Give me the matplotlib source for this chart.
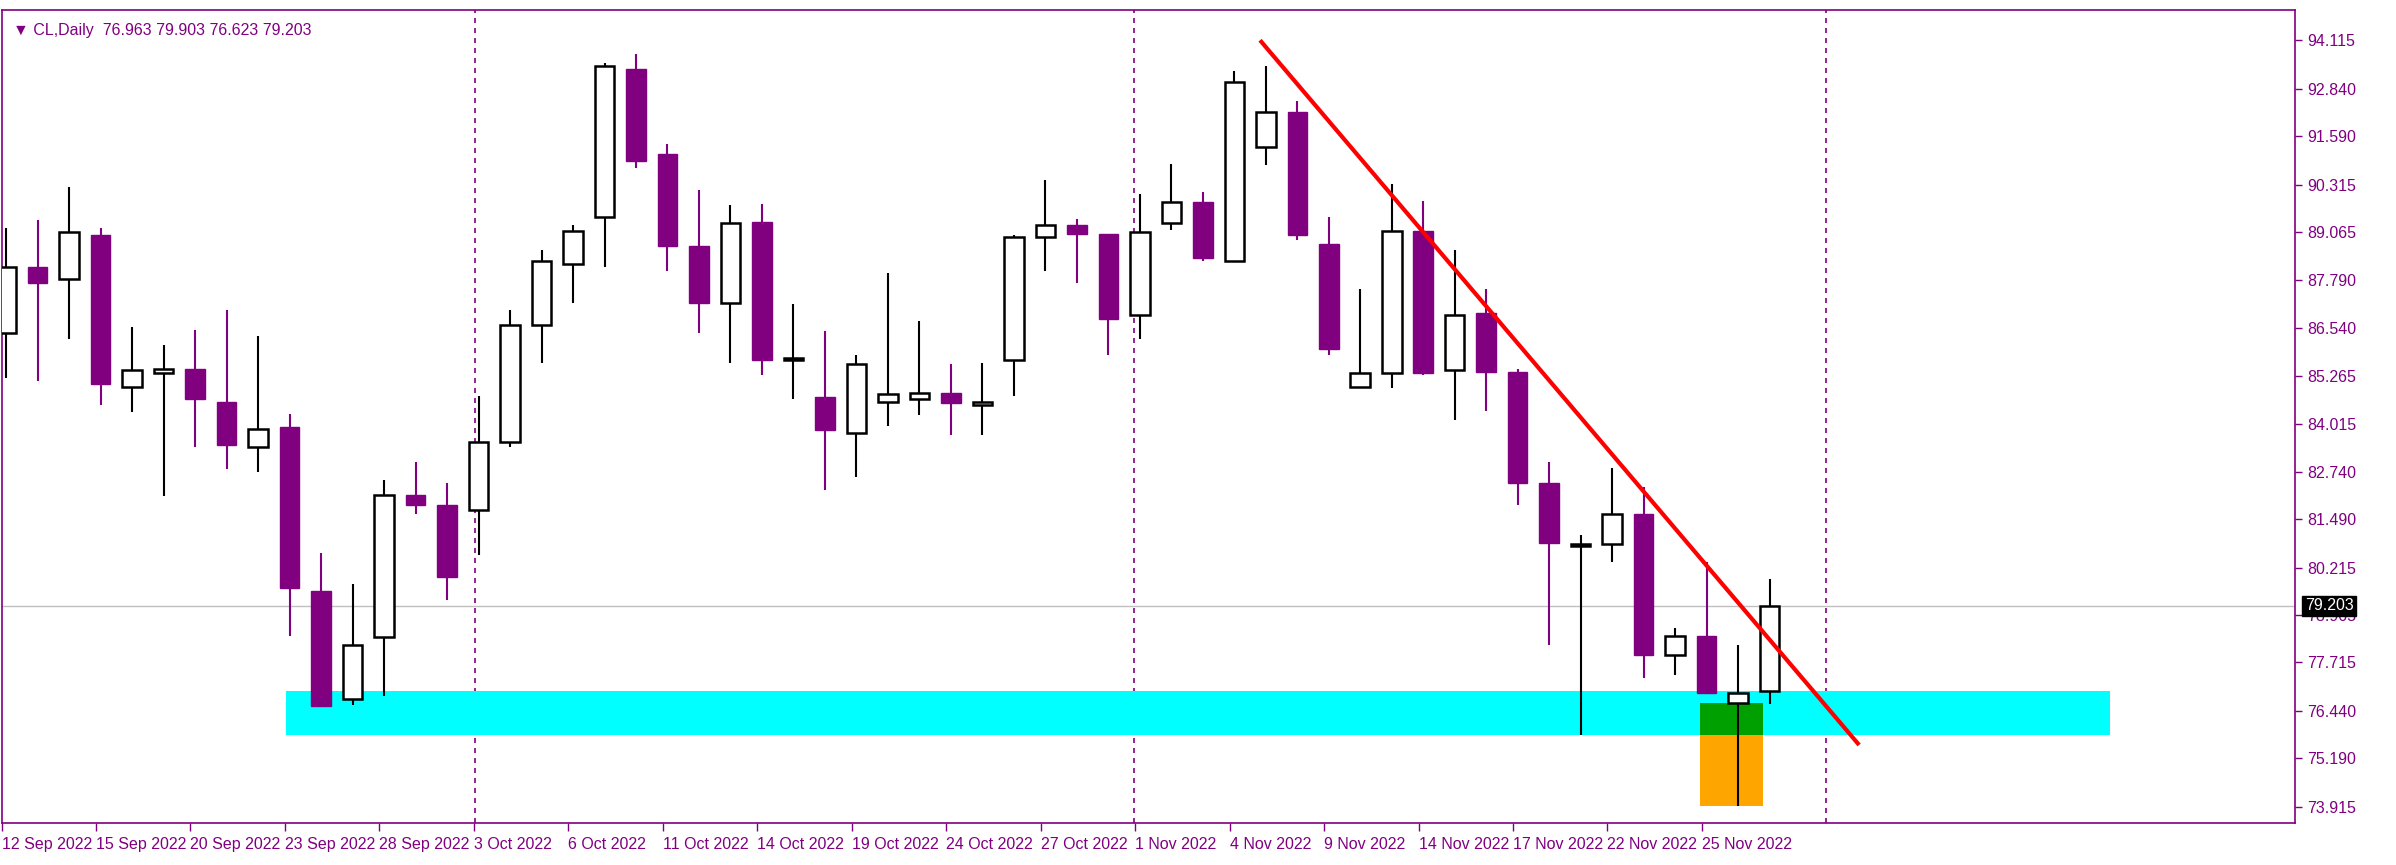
import matplotlib
matplotlib.use("Agg")
import matplotlib.pyplot as plt
from matplotlib.patches import Rectangle

plt.rcParams["font.family"] = ["Liberation Sans", "DejaVu Sans"]

# daily OHLC
opens = [86.41, 88.15, 87.83, 88.98, 84.98, 85.34, 85.46, 84.59, 83.40, 83.92,
         79.61, 76.76, 78.38, 82.14, 81.86, 81.74, 83.52, 86.60, 88.23, 89.45,
         93.36, 91.11, 88.70, 87.20, 89.33, 85.70, 84.71, 83.76, 84.59, 84.67,
         84.82, 84.51, 85.70, 88.94, 89.25, 89.02, 86.88, 89.29, 89.85, 88.30,
         91.31, 92.22, 88.74, 84.98, 85.34, 89.09, 85.42, 86.92, 85.38, 82.45,
         80.79, 80.83, 81.62, 77.91, 78.42, 76.64, 76.963]
highs = [89.17, 89.37, 90.24, 89.17, 86.56, 86.09, 86.49, 87.00, 86.33, 84.27,
         80.60, 79.77, 82.53, 83.01, 82.45, 84.75, 87.00, 88.58, 89.25, 93.52,
         93.76, 91.39, 90.16, 89.77, 89.81, 87.16, 86.45, 85.81, 87.99, 86.72,
         85.58, 85.62, 88.98, 90.44, 89.41, 89.02, 90.08, 90.87, 90.12, 93.32,
         93.44, 92.53, 89.45, 87.55, 90.32, 89.89, 88.58, 87.55, 85.46, 83.01,
         81.07, 82.85, 82.33, 78.62, 80.36, 78.18, 79.903]
lows = [85.22, 85.14, 86.25, 84.51, 84.31, 82.10, 83.40, 82.81, 82.73, 78.42,
        76.56, 76.60, 76.84, 81.62, 79.37, 80.56, 83.40, 85.62, 87.20, 88.15,
        90.75, 88.03, 86.41, 85.62, 85.30, 84.67, 82.25, 82.61, 83.96, 84.23,
        83.72, 83.72, 84.75, 88.03, 87.71, 85.81, 86.25, 89.13, 88.30, 88.27,
        90.83, 88.86, 85.81, 84.94, 84.94, 85.30, 84.11, 84.35, 81.86, 78.18,
        75.81, 80.36, 77.31, 77.39, 76.92, 73.92, 76.623]
closes = [88.15, 87.71, 89.06, 85.06, 85.42, 85.46, 84.67, 83.44, 83.88, 79.69,
          76.56, 78.18, 82.14, 81.86, 79.96, 83.52, 86.60, 88.30, 89.09, 93.44,
          90.95, 88.70, 87.20, 89.29, 85.70, 85.70, 83.84, 85.58, 84.79, 84.82,
          84.55, 84.59, 88.94, 89.25, 89.02, 86.76, 89.06, 89.85, 88.38, 93.01,
          92.22, 88.98, 85.97, 85.34, 89.09, 85.34, 86.88, 85.38, 82.45, 80.87,
          80.83, 81.62, 77.91, 78.42, 76.92, 76.92, 79.203]

date_idx = [0, 3, 6, 9, 12, 15, 18, 21, 24, 27, 30, 33, 36, 39, 42, 45, 48, 51, 54]
date_labels = ["12 Sep 2022", "15 Sep 2022", "20 Sep 2022", "23 Sep 2022", "28 Sep 2022",
               "3 Oct 2022", "6 Oct 2022", "11 Oct 2022", "14 Oct 2022", "19 Oct 2022",
               "24 Oct 2022", "27 Oct 2022", "1 Nov 2022", "4 Nov 2022", "9 Nov 2022",
               "14 Nov 2022", "17 Nov 2022", "22 Nov 2022", "25 Nov 2022"]
price_ticks = [94.115, 92.840, 91.590, 90.315, 89.065, 87.790, 86.540, 85.265, 84.015,
               82.740, 81.490, 80.215, 78.965, 77.715, 76.440, 75.190, 73.915]
separators = [14.9, 35.8, 57.8]

trend_x = [39.86, 58.8]
trend_y = [94.08, 75.58]
support_zone = (8.9, 66.8, 75.81, 76.96)    # x0, x1, y0, y1
green_zone = (53.8, 55.8, 75.81, 76.64)
orange_zone = (53.8, 55.8, 73.92, 75.81)

PURPLE = "#800080"
last_price = 79.203

fig = plt.figure(figsize=(23.96, 8.65), dpi=100)
ax = fig.add_axes([1 / 1597, 1 - 549 / 577, 1529 / 1597, 542 / 577])
ax.set_xlim(-0.14, 72.7)
ax.set_ylim(73.48, 94.906)

for x0, x1, y0, y1, c in [(*support_zone, "#00ffff"), (*green_zone, "#00a000"),
                          (*orange_zone, "#ffa500")]:
    ax.add_patch(Rectangle((x0, y0), x1 - x0, y1 - y0, color=c, lw=0, zorder=1))

for s in separators:
    ax.axvline(s, color=PURPLE, ls=(0, (3, 3)), lw=1.2, zorder=0)
ax.axhline(last_price, color="#c0c0c0", lw=1, zorder=0)

w = 0.62
for i, (o, h, l, c) in enumerate(zip(opens, highs, lows, closes)):
    bull = c >= o
    col = "black" if bull else PURPLE
    ax.vlines(i, l, h, color=col, lw=1.5, zorder=2)
    bottom = min(o, c)
    height = max(abs(c - o), 0.04)
    if bull:
        ax.add_patch(Rectangle((i - w / 2, bottom), w, height, facecolor="white",
                               edgecolor="black", lw=1.8, zorder=3))
    else:
        ax.add_patch(Rectangle((i - w / 2, bottom), w, height, facecolor=PURPLE,
                               edgecolor=PURPLE, lw=1, zorder=3))

ax.plot(trend_x, trend_y, color="red", lw=3, zorder=4)

# axes styling, MT4 look
for sp in ax.spines.values():
    sp.set_color(PURPLE)
    sp.set_linewidth(1.2)
ax.yaxis.tick_right()
ax.set_yticks(price_ticks)
ax.set_yticklabels([f"{p:.3f}" for p in price_ticks])
ax.set_xticks([d - 0.15 for d in date_idx])
ax.set_xticklabels(date_labels, ha="left")
ax.tick_params(axis="both", colors=PURPLE, labelsize=11.5, length=5, width=1)
ax.tick_params(axis="x", length=6, pad=4)
for lbl in ax.get_xticklabels() + ax.get_yticklabels():
    lbl.set_color(PURPLE)

ax.text(1.004, (last_price - 73.48) / (94.906 - 73.48), f"{last_price:.3f}",
        transform=ax.transAxes, va="center", ha="left", fontsize=11.5, color="white",
        bbox=dict(boxstyle="square,pad=0.15", fc="black", ec="black"), zorder=10)
ax.text(0.005, 0.985, "\u25bc CL,Daily  76.963 79.903 76.623 79.203", transform=ax.transAxes,
        va="top", ha="left", fontsize=11.5, color=PURPLE)

fig.savefig("out.png", dpi=100)
